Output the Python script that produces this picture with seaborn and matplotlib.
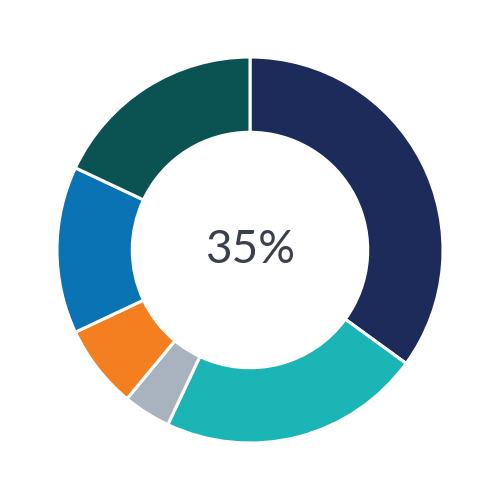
import matplotlib
matplotlib.use("Agg")
import matplotlib.pyplot as plt
import seaborn as sns

categories = ["Navy", "Teal", "Gray", "Orange", "Blue", "Dark green"]
values = [35, 22, 4, 7, 14, 18]
colors = ["#1c2b5a", "#1cb5b5", "#a9b3bf", "#f47f20", "#0a73b3", "#0a5352"]
center_label = "35%"

sns.set_theme(style="white")
plt.rcParams['font.family'] = ['Lato', 'DejaVu Sans']

fig = plt.figure(figsize=(5, 5), dpi=100)
ax = fig.add_axes([0, 0, 1, 1])
ax.pie(values, colors=colors, startangle=90, counterclock=False,
       radius=1.0,
       wedgeprops=dict(width=0.39, edgecolor="white", linewidth=2.2))
lim = 250 / 193
ax.set_xlim(-lim, lim)
ax.set_ylim(-lim, lim)
ax.set_aspect("equal")
ax.axis("off")
ax.text(0, 0.0, center_label, ha="center", va="center", fontsize=33,
        color="#3b404b")
fig.savefig("out.png", dpi=100, facecolor="white")
